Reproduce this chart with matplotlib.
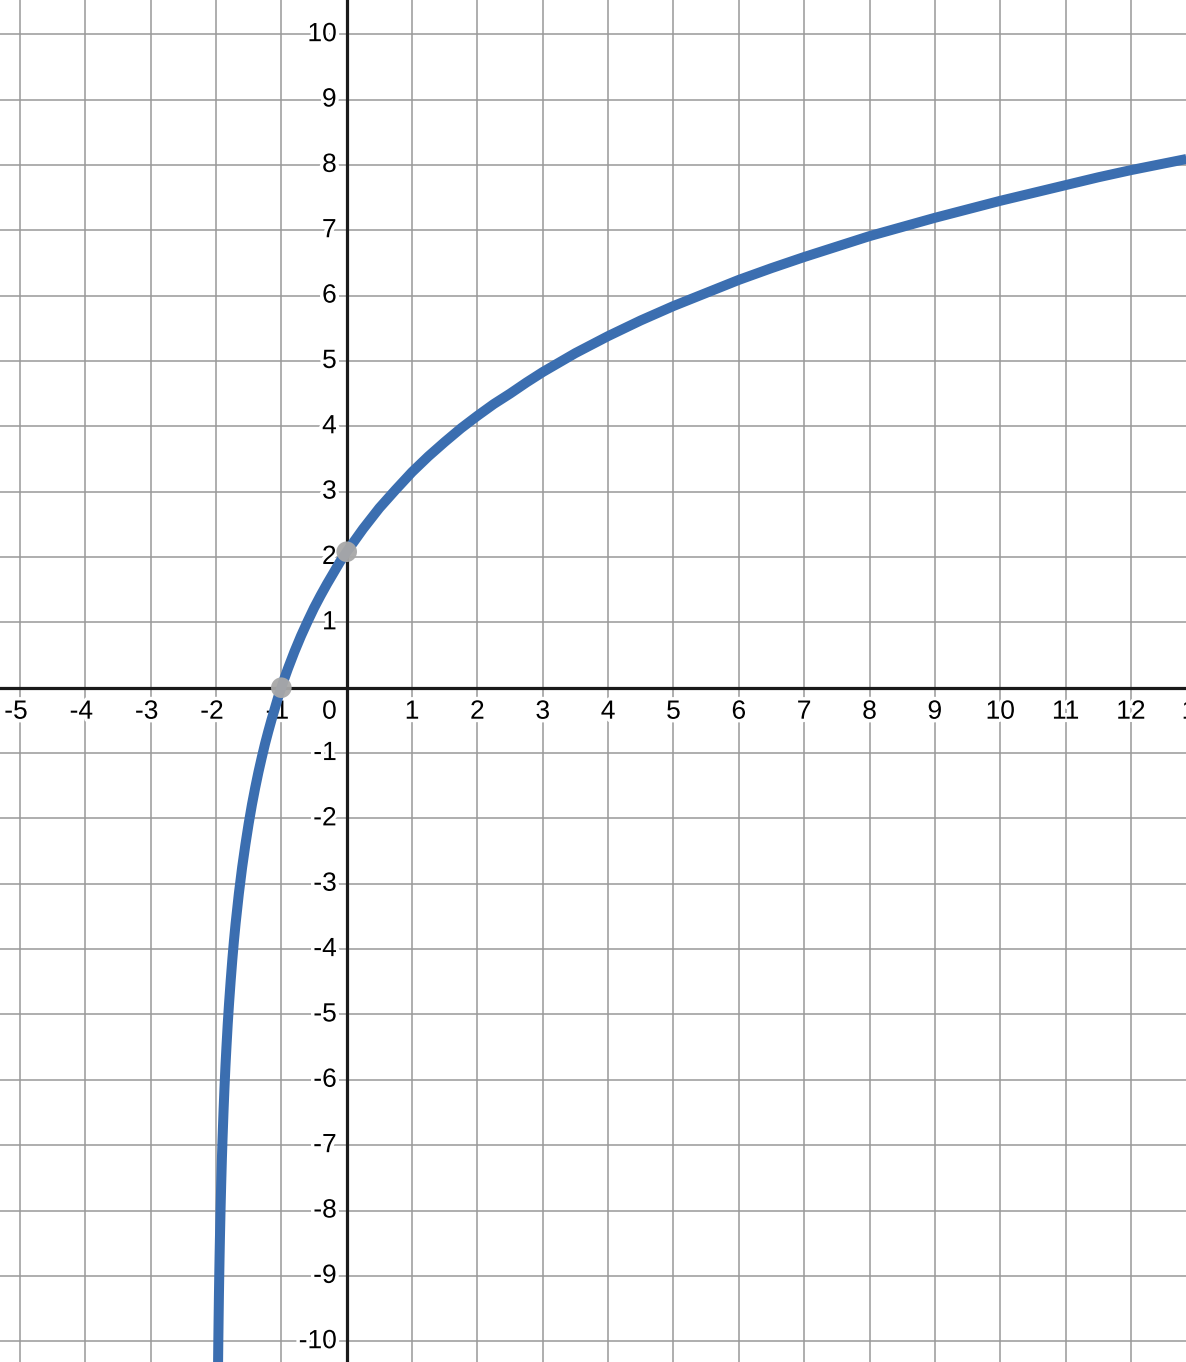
import matplotlib
matplotlib.use('Agg')
import matplotlib.pyplot as plt
import matplotlib.patheffects as pe
from matplotlib.transforms import offset_copy

# curve points (vertical asymptote near x = -2)
curve_x = [-1.968, -1.965, -1.96, -1.955, -1.95, -1.945, -1.94, -1.93, -1.92, -1.91,
           -1.9, -1.885, -1.87, -1.855, -1.84, -1.82, -1.8, -1.775, -1.75, -1.725,
           -1.7, -1.65, -1.6, -1.55, -1.5, -1.45, -1.4, -1.35, -1.3, -1.25,
           -1.2, -1.15, -1.1, -1.05, -1.0, -0.95, -0.9, -0.85, -0.8, -0.75,
           -0.7, -0.6, -0.5, -0.4, -0.3, -0.2, -0.1, 0.0, 0.25, 0.5,
           0.75, 1.0, 1.25, 1.5, 1.75, 2.0, 2.25, 2.5, 2.75, 3.0,
           3.5, 4.0, 4.5, 5.0, 5.5, 6.0, 6.5, 7.0, 7.5, 8.0,
           8.5, 9.0, 9.5, 10.0, 10.5, 11.0, 11.5, 12.0, 12.5, 12.85]
curve_y = [-10.33, -10.06, -9.66, -9.30, -8.99, -8.70, -8.44, -7.98, -7.58, -7.22,
           -6.91, -6.49, -6.12, -5.79, -5.50, -5.14, -4.83, -4.48, -4.16, -3.87,
           -3.61, -3.15, -2.75, -2.40, -2.08, -1.79, -1.53, -1.29, -1.07, -0.86,
           -0.67, -0.49, -0.32, -0.15, 0.0, 0.15, 0.29, 0.42, 0.55, 0.67,
           0.79, 1.01, 1.22, 1.41, 1.59, 1.76, 1.93, 2.08, 2.43, 2.75,
           3.03, 3.30, 3.54, 3.76, 3.97, 4.16, 4.34, 4.50, 4.67, 4.83,
           5.12, 5.38, 5.62, 5.84, 6.04, 6.24, 6.42, 6.59, 6.75, 6.91,
           7.05, 7.19, 7.32, 7.45, 7.57, 7.69, 7.81, 7.92, 8.02, 8.09]

# highlighted points (x-intercept and y-intercept)
point_x = [-1.0, 0.0]
point_y = [0.0, 2.08]

x_ticks = list(range(-5, 14))
y_ticks = list(range(-10, 11))

fig = plt.figure(figsize=(11.86, 13.62), dpi=100)
ax = fig.add_axes([0, 0, 1, 1])
ax.set_xlim(-5.305, 12.843)
ax.set_ylim(-10.318, 10.523)
ax.axis('off')

# grid
for gx in range(-6, 14):
    ax.axvline(gx, color='#999999', lw=1.1, zorder=1)
for gy in range(-11, 12):
    ax.axhline(gy, color='#999999', lw=1.1, zorder=1)

# axes
ax.axhline(0, color='#1a1a1a', lw=2.3, zorder=2)
ax.axvline(0, color='#1a1a1a', lw=2.3, zorder=2)

halo = [pe.withStroke(linewidth=5, foreground='white')]
font = dict(family=['Liberation Sans', 'DejaVu Sans'], fontsize=19, color='black')

# x labels: digits centred on the grid line, minus sign hangs to the left
for t in x_ticks:
    if t == 0:
        continue
    dx = -4 if t < 0 else 0
    tr = offset_copy(ax.transData, fig=fig, x=dx, y=-12, units='dots')
    ax.text(t, 0, str(t), transform=tr, ha='center', va='top',
            path_effects=halo, zorder=3, **font)

left = offset_copy(ax.transData, fig=fig, x=-10, y=0, units='dots')
for t in y_ticks:
    if t == 0:
        continue
    ax.text(0, t, str(t), transform=left, ha='right', va='center',
            path_effects=halo, zorder=3, **font)

origin = offset_copy(ax.transData, fig=fig, x=-10, y=-12, units='dots')
ax.text(0, 0, '0', transform=origin, ha='right', va='top',
        path_effects=halo, zorder=3, **font)

# curve
ax.plot(curve_x, curve_y, color='#3b6eb0', lw=7.2, solid_capstyle='butt',
        solid_joinstyle='round', zorder=4)

# points
ax.scatter(point_x, point_y, s=220, color='#a8a8a8', alpha=0.95, edgecolors='none', zorder=5)

fig.savefig('out.png', dpi=100)
